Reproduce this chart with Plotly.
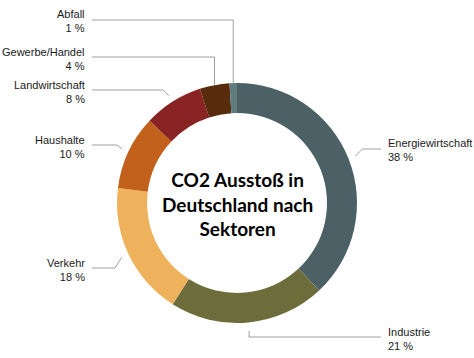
import math
import plotly.graph_objects as go

# ---- data ----
sectors = ["Energiewirtschaft", "Industrie", "Verkehr", "Haushalte",
           "Landwirtschaft", "Gewerbe/Handel", "Abfall"]
shares = [38, 21, 18, 10, 8, 4, 1]
colors = ["#4b6165", "#6d6c3b", "#efb25c", "#c1611c", "#8a2323", "#582b0c", "#5f7d7e"]
title_lines = ["CO2 Ausstoß in", "Deutschland nach", "Sektoren"]

# ---- layout constants (pixels) ----
W, H = 474, 358
CX, CY, R = 237, 203, 120
HOLE = 0.75
# label line y (pixel) and leader style for each sector
label_line_y = [149, 337, 268, 145, 90, 57, 20]
leader_kind = ["diag", "vert", "diag", "diag", "diag", "vert", "vert"]
side = ["right", "right", "left", "left", "left", "left", "left"]
LEFT_TEXT_X = 87
RIGHT_TEXT_X = 386


def px(x):
    return x / W


def py(y):
    return 1 - y / H


fig = go.Figure(go.Pie(
    labels=sectors,
    values=shares,
    hole=HOLE,
    sort=False,
    direction="clockwise",
    rotation=0,
    marker=dict(colors=colors, line=dict(width=0)),
    textinfo="none",
    hoverinfo="label+percent",
    showlegend=False,
    domain=dict(x=[px(CX - R), px(CX + R)], y=[py(CY + R), py(CY - R)]),
))

shapes = []
annotations = []
total = sum(shares)
cum = 0
for name, val, ly, kind, sd in zip(sectors, shares, label_line_y, leader_kind, side):
    mid = (cum + val / 2) / total * 2 * math.pi
    cum += val
    rr = R * (1.0 if kind == "vert" and sd == "left" else 1.06)
    if name == "Industrie":
        rr = R * 1.07
    sx = CX + rr * math.sin(mid)
    sy = CY - rr * math.cos(mid)
    if kind == "vert":
        ex, ey = sx, ly
    else:
        dy = abs(ly - sy)
        step = min(max(dy, 5), 7)
        ex = sx + (step if sd == "right" else -step)
        ey = ly
    tx = RIGHT_TEXT_X - 5 if sd == "right" else LEFT_TEXT_X + 5
    path = f"M {px(sx)},{py(sy)} L {px(ex)},{py(ey)} L {px(tx)},{py(ly)}"
    shapes.append(dict(type="path", xref="paper", yref="paper", path=path,
                       line=dict(color="#a0a0a0", width=1)))
    annotations.append(dict(
        text=f"{name}<br>{val} %",
        x=px(RIGHT_TEXT_X if sd == "right" else LEFT_TEXT_X),
        y=py(ly + 1.5),
        xref="paper", yref="paper",
        xanchor="left" if sd == "right" else "right",
        yanchor="middle",
        align="left" if sd == "right" else "right",
        showarrow=False,
        font=dict(family="Liberation Sans, Arial, sans-serif", size=11, color="#1a1a1a"),
    ))

annotations.append(dict(
    text="<br>".join(title_lines),
    x=px(CX), y=py(CY + 1),
    xref="paper", yref="paper",
    xanchor="center", yanchor="middle", align="center",
    showarrow=False,
    font=dict(family="Lato, sans-serif", size=19, color="#000000", weight="bold"),
))

fig.update_layout(
    width=W, height=H,
    margin=dict(l=0, r=0, t=0, b=0),
    paper_bgcolor="white", plot_bgcolor="white",
    shapes=shapes, annotations=annotations,
)

fig.write_html("out.html", config={"displayModeBar": False},
               post_script="document.body.style.margin='0';")
